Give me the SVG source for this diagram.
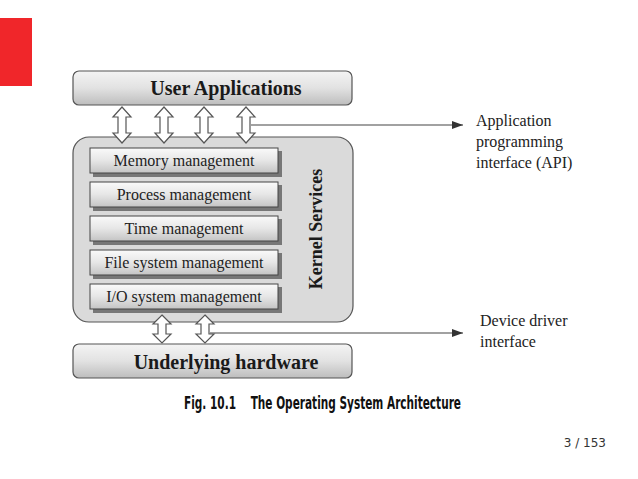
<svg xmlns="http://www.w3.org/2000/svg" width="638" height="479" viewBox="0 0 638 479">
<style>
.lbl{font-family:"Liberation Serif",serif;font-size:16px;fill:#222;}
.big{font-family:"Liberation Serif",serif;font-size:20px;font-weight:bold;fill:#1a1a1a;}
.item{font-family:"Liberation Serif",serif;font-size:16px;fill:#222;}
.bar{stroke:#555;stroke-width:1.2;fill:url(#g1);}
.inner{stroke:#444;stroke-width:1;fill:url(#g2);}
.shadow{fill:#777;}
.darr{fill:#fff;stroke:#555;stroke-width:1.2;}
.conn{stroke:#444;stroke-width:1.2;fill:none;}
</style>
<defs>
<linearGradient id="g1" x1="0" y1="0" x2="0" y2="1">
<stop offset="0" stop-color="#f4f4f4"/><stop offset="0.5" stop-color="#e2e2e2"/><stop offset="1" stop-color="#bdbdbd"/>
</linearGradient>
<linearGradient id="g2" x1="0" y1="0" x2="0" y2="1">
<stop offset="0" stop-color="#fafafa"/><stop offset="0.5" stop-color="#e6e6e6"/><stop offset="1" stop-color="#c4c4c4"/>
</linearGradient>
<marker id="ah" markerWidth="11" markerHeight="8" refX="11" refY="4" orient="auto" markerUnits="userSpaceOnUse">
<path d="M0,0 L11,4 L0,8 Z" fill="#333"/>
</marker>
<path id="dbl" d="M0,-18 L9,-8 L4,-8 L4,8 L9,8 L0,18 L-9,8 L-4,8 L-4,-8 L-9,-8 Z"/>
<path id="dbl2" d="M0,-14 L9,-5 L4,-5 L4,5 L9,5 L0,14 L-9,5 L-4,5 L-4,-5 L-9,-5 Z"/>
</defs>
<rect x="0" y="18" width="32" height="68" fill="#f0262a"/>

<g id="user-apps">
<rect class="bar" x="73" y="71" width="279" height="34" rx="6"/>
<text class="big" x="226" y="95" text-anchor="middle">User Applications</text>
</g>

<g id="kernel">
<rect x="73" y="137" width="280" height="185" rx="16" fill="#dadada" stroke="#555" stroke-width="1.2"/>
<text class="big" transform="translate(322,229) rotate(-90)" text-anchor="middle" style="font-size:18px">Kernel Services</text>
</g>

<g id="memory">
<rect class="shadow" x="93" y="151" width="189" height="26"/>
<rect class="inner" x="90" y="148" width="188" height="25"/>
<text class="item" x="184" y="166" text-anchor="middle">Memory management</text>
</g>
<g id="process">
<rect class="shadow" x="93" y="185" width="189" height="26"/>
<rect class="inner" x="90" y="182" width="188" height="25"/>
<text class="item" x="184" y="200" text-anchor="middle">Process management</text>
</g>
<g id="time">
<rect class="shadow" x="93" y="219" width="189" height="26"/>
<rect class="inner" x="90" y="216" width="188" height="25"/>
<text class="item" x="184" y="234" text-anchor="middle">Time management</text>
</g>
<g id="filesystem">
<rect class="shadow" x="93" y="253" width="189" height="26"/>
<rect class="inner" x="90" y="250" width="188" height="25"/>
<text class="item" x="184" y="268" text-anchor="middle">File system management</text>
</g>
<g id="io">
<rect class="shadow" x="93" y="287" width="189" height="26"/>
<rect class="inner" x="90" y="284" width="188" height="25"/>
<text class="item" x="184" y="302" text-anchor="middle">I/O system management</text>
</g>

<g id="hardware">
<rect class="bar" x="73" y="344" width="279" height="34" rx="6"/>
<text class="big" x="226" y="369" text-anchor="middle">Underlying hardware</text>
</g>

<g id="connectors">
<line class="conn" x1="251" y1="125" x2="463" y2="125" marker-end="url(#ah)"/>
<line class="conn" x1="210" y1="333" x2="463" y2="333" marker-end="url(#ah)"/>
<use href="#dbl" class="darr" x="122" y="125"/>
<use href="#dbl" class="darr" x="164" y="125"/>
<use href="#dbl" class="darr" x="204" y="125"/>
<use href="#dbl" class="darr" x="246" y="125"/>
<use href="#dbl2" class="darr" x="162" y="329"/>
<use href="#dbl2" class="darr" x="205" y="329"/>
</g>

<g id="api-label">
<text class="lbl" x="476" y="126">Application</text>
<text class="lbl" x="476" y="147">programming</text>
<text class="lbl" x="476" y="168">interface (API)</text>
</g>
<g id="driver-label">
<text class="lbl" x="480" y="326">Device driver</text>
<text class="lbl" x="480" y="347">interface</text>
</g>

<text x="184" y="409" font-family="'DejaVu Sans Condensed','DejaVu Sans',sans-serif" font-weight="bold" font-size="17" fill="#111" textLength="277" lengthAdjust="spacingAndGlyphs" xml:space="preserve">Fig. 10.1    The Operating System Architecture</text>
<text x="606" y="447" text-anchor="end" font-family="'DejaVu Sans',sans-serif" font-size="12" fill="#333">3 / 153</text>
</svg>
